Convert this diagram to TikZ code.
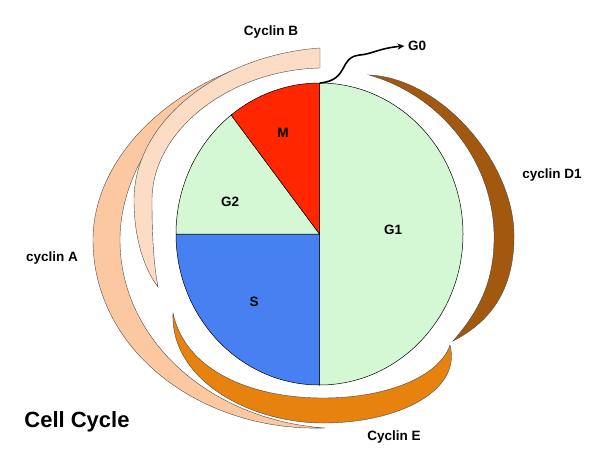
\documentclass[tikz,border=0pt]{standalone}
\usepackage{fontspec}
\setmainfont{Liberation Sans}
\usetikzlibrary{arrows.meta}
\definecolor{cgreen}{HTML}{D4F8D4}
\definecolor{cblue}{HTML}{4780F0}
\definecolor{cred}{HTML}{FF2600}
\definecolor{cbrown}{HTML}{A2580E}
\definecolor{corange}{HTML}{E8820F}
\definecolor{cpeachA}{HTML}{FBC8A2}
\definecolor{cpeachB}{HTML}{FCDCC4}
\tikzset{lbl/.style={font=\bfseries\fontsize{13.5}{15}\selectfont},
band/.style={draw=black!70,line width=0.4pt},
wedge/.style={draw=black,line width=0.5pt}}
\begin{document}
\begin{tikzpicture}[x=1pt,y=-1pt]
\useasboundingbox (0,0) rectangle (601,460);
% cyclin A
\path[band,fill=cpeachA] (242,67) .. controls (150,100) and (93,170) .. (93,240) .. controls (93,350) and (200,432) .. (325,428)
 .. controls (210,420) and (120,340) .. (120,240) .. controls (120,170) and (170,100) .. (242,67) -- cycle;
% cyclin B
\path[band,fill=cpeachB] (320,48) .. controls (220,55) and (134,120) .. (134,200) .. controls (134,240) and (145,270) .. (158,287)
 .. controls (153,260) and (152,230) .. (152,200) .. controls (152,130) and (230,70) .. (320,68) -- cycle;
% cyclin E
\path[band,fill=corange] (173,313) .. controls (170,380) and (250,423) .. (323,423) .. controls (400,423) and (462,390) .. (450,345)
 .. controls (440,375) and (390,398) .. (323,398) .. controls (250,398) and (185,370) .. (173,313) -- cycle;
% cyclin D1
\path[band,fill=cbrown] (369,75) .. controls (440,78) and (512,160) .. (514,233) .. controls (515,290) and (490,322) .. (453,341)
 .. controls (480,310) and (495,280) .. (494,233) .. controls (492,160) and (440,95) .. (369,75) -- cycle;
% pie
\coordinate (c) at (319.5,234);
\draw[wedge,fill=cgreen] (c) -- ++(0,-151) arc[start angle=-90,end angle=90,x radius=143.5,y radius=151] -- cycle;
\draw[wedge,fill=cblue] (c) -- ++(-143.5,0) arc[start angle=180,end angle=90,x radius=143.5,y radius=151] -- cycle;
\draw[wedge,fill=cgreen] (c) -- ++(-143.5,0) arc[start angle=180,end angle=232,x radius=143.5,y radius=151] -- cycle;
\draw[wedge,fill=cred] (c) -- ++(0,-151) arc[start angle=270,end angle=232,x radius=143.5,y radius=151] -- cycle;
\coordinate (top) at (320,83);
\node[lbl] (g0) at (417,46) {G0};
\draw[line width=1.6pt,-{Stealth[length=7pt,width=6pt]}] (top) .. controls (350,80) and (338,57) .. (360,55) .. controls (372,54) and (380,48) .. (g0.west);
\node[lbl] (m) at (283,133) {M};
\node[lbl] (g2) at (230,202) {G2};
\node[lbl] (g1) at (393,230) {G1};
\node[lbl] (s) at (254,302) {S};
\node[lbl] (cb) at (271,32) {Cyclin B};
\node[lbl] (cd) at (552,175) {cyclin D1};
\node[lbl] (ca) at (52,258) {cyclin A};
\node[lbl] (ce) at (394,437) {Cyclin E};
\node[font=\bfseries\fontsize{22}{24}\selectfont] (cc) at (77,422) {Cell Cycle};
\end{tikzpicture}
\end{document}
